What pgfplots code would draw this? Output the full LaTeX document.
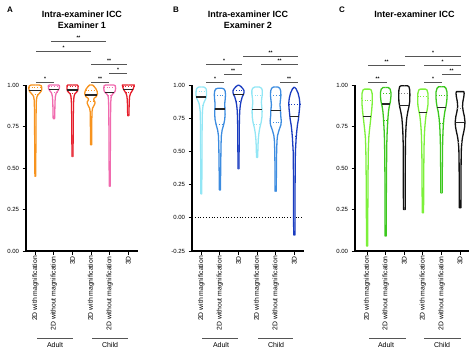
\documentclass[border=0pt]{standalone}
\usepackage{fontspec}
\setmainfont{Liberation Sans}
\usepackage{pgfplots}
\pgfplotsset{compat=1.18}

\definecolor{cOr}{HTML}{F7931E}
\definecolor{cPk}{HTML}{F06AAE}
\definecolor{cRd}{HTML}{E61E2B}
\definecolor{cLc}{HTML}{92E6F5}
\definecolor{cMb}{HTML}{3C8CE0}
\definecolor{cDb}{HTML}{1A3CC0}
\definecolor{cLg}{HTML}{7CF03A}
\definecolor{cGr}{HTML}{3CC81E}
\definecolor{cBk}{HTML}{111111}
\definecolor{barc}{HTML}{555555}

\newcommand\violin[3]{%
 \addplot[#2, line width=1.3pt, line join=round] table[row sep=\\, x expr=#1+\thisrow{w}, y=y]{y w\\ #3};
 \addplot[#2, line width=1.3pt, line join=round] table[row sep=\\, x expr=#1-\thisrow{w}, y=y]{y w\\ #3};}
\newcommand\seg[4]{\addplot[#4] table[row sep=\\, x expr=#1+\thisrow{d}, y=y]{d y\\ -#3 #2\\ #3 #2\\};}
\newcommand\vq[8]{%
 \seg{#1}{#5}{#6}{#2, dotted, line width=0.7pt}
 \seg{#1}{#7}{#8}{#2, dotted, line width=0.7pt}
 \seg{#1}{#3}{#4}{black!85, line width=1.2pt}}

\pgfplotsset{panel/.style={
 scale only axis, width=111.6pt, height=166pt, xmin=-0.5, xmax=5.5,
 axis lines=left, axis line style={-, line width=1.1pt, black},
 tick align=outside, major tick length=3.5pt, tick style={line width=0.9pt, black},
 xtick={0,...,5},
 xticklabels={2D with magnification,2D without magnification,3D,2D with magnification,2D without magnification,3D},
 xticklabel style={rotate=90, anchor=east, font=\fontsize{6.8}{7}\selectfont, inner sep=1.5pt},
 yticklabel style={font=\fontsize{6}{7}\selectfont, /pgf/number format/fixed, /pgf/number format/fixed zerofill, /pgf/number format/precision=2},
 /pgf/number format/assume math mode=true,
 no markers, clip=false,
}}

\begin{document}
\begin{tikzpicture}
\useasboundingbox (0pt,0pt) rectangle (474pt,351pt);

% ---------------- Panel A
\begin{axis}[panel, at={(26pt,100pt)}, anchor=south west, ymin=0, ymax=1, ytick={0,0.25,0.5,0.75,1}]
\violin{0}{cOr}{1.0 0\\ 1.0 0.22\\ 0.995 0.32\\ 0.985 0.35\\ 0.97 0.34\\ 0.96 0.3\\ 0.95 0.22\\ 0.94 0.14\\ 0.93 0.09\\ 0.91 0.06\\ 0.88 0.05\\ 0.85 0.045\\ 0.8 0.04\\ 0.7 0.035\\ 0.6 0.03\\ 0.5 0.025\\ 0.45 0.02\\ 0.45 0\\}
\vq{0}{cOr}{0.965}{0.32}{0.985}{0.34}{0.945}{0.18}
\violin{1}{cPk}{1.0 0\\ 1.0 0.25\\ 0.995 0.3\\ 0.98 0.29\\ 0.97 0.25\\ 0.96 0.18\\ 0.95 0.12\\ 0.93 0.08\\ 0.9 0.06\\ 0.85 0.05\\ 0.8 0.04\\ 0.795 0\\}
\vq{1}{cPk}{0.975}{0.27}{0.99}{0.29}{0.955}{0.15}
\violin{2}{cRd}{1.0 0\\ 1.0 0.25\\ 0.995 0.3\\ 0.98 0.3\\ 0.965 0.28\\ 0.955 0.2\\ 0.945 0.12\\ 0.93 0.08\\ 0.9 0.06\\ 0.85 0.05\\ 0.8 0.04\\ 0.7 0.035\\ 0.6 0.03\\ 0.57 0.03\\ 0.57 0\\}
\vq{2}{cRd}{0.97}{0.29}{0.99}{0.3}{0.95}{0.16}
\violin{3}{cOr}{1.0 0\\ 1.0 0.08\\ 0.99 0.17\\ 0.975 0.27\\ 0.96 0.33\\ 0.945 0.34\\ 0.93 0.28\\ 0.92 0.16\\ 0.91 0.14\\ 0.9 0.2\\ 0.89 0.21\\ 0.875 0.15\\ 0.86 0.08\\ 0.84 0.05\\ 0.8 0.04\\ 0.7 0.035\\ 0.64 0.03\\ 0.64 0\\}
\vq{3}{cOr}{0.94}{0.31}{0.97}{0.3}{0.9}{0.2}
\violin{4}{cPk}{1.0 0\\ 1.0 0.22\\ 0.995 0.3\\ 0.98 0.32\\ 0.965 0.3\\ 0.955 0.25\\ 0.945 0.15\\ 0.93 0.08\\ 0.9 0.06\\ 0.85 0.05\\ 0.8 0.045\\ 0.7 0.04\\ 0.6 0.035\\ 0.5 0.03\\ 0.39 0.025\\ 0.39 0\\}
\vq{4}{cPk}{0.955}{0.25}{0.985}{0.31}{0.935}{0.11}
\violin{5}{cRd}{1.0 0\\ 1.0 0.32\\ 0.99 0.3\\ 0.975 0.26\\ 0.96 0.18\\ 0.95 0.12\\ 0.93 0.07\\ 0.9 0.05\\ 0.85 0.04\\ 0.815 0.03\\ 0.815 0\\}
\vq{5}{cRd}{0.975}{0.26}{0.99}{0.3}{0.955}{0.15}
\end{axis}

% ---------------- Panel B
\begin{axis}[panel, at={(192pt,100pt)}, anchor=south west, ymin=-0.25, ymax=1, ytick={-0.25,0,0.25,0.5,0.75,1}]
\addplot[black, dotted, line width=0.8pt] coordinates {(-0.5,0) (5.5,0)};
\violin{0}{cLc}{0.985 0\\ 0.985 0.12\\ 0.98 0.2\\ 0.97 0.26\\ 0.95 0.28\\ 0.92 0.28\\ 0.9 0.25\\ 0.88 0.18\\ 0.86 0.12\\ 0.83 0.08\\ 0.8 0.06\\ 0.75 0.05\\ 0.7 0.045\\ 0.6 0.04\\ 0.5 0.035\\ 0.4 0.03\\ 0.3 0.03\\ 0.18 0.025\\ 0.18 0\\}
\vq{0}{cLc}{0.91}{0.27}{0.95}{0.28}{0.85}{0.1}
\violin{1}{cMb}{0.975 0\\ 0.975 0.12\\ 0.97 0.22\\ 0.955 0.28\\ 0.93 0.3\\ 0.9 0.29\\ 0.86 0.26\\ 0.82 0.27\\ 0.78 0.28\\ 0.74 0.26\\ 0.7 0.2\\ 0.66 0.12\\ 0.62 0.08\\ 0.55 0.06\\ 0.45 0.05\\ 0.35 0.04\\ 0.21 0.03\\ 0.21 0\\}
\vq{1}{cMb}{0.82}{0.27}{0.92}{0.3}{0.7}{0.2}
\violin{2}{cDb}{1.0 0\\ 0.99 0.12\\ 0.975 0.22\\ 0.96 0.29\\ 0.945 0.3\\ 0.93 0.27\\ 0.91 0.2\\ 0.88 0.14\\ 0.85 0.1\\ 0.81 0.07\\ 0.75 0.05\\ 0.65 0.04\\ 0.55 0.035\\ 0.45 0.03\\ 0.37 0.03\\ 0.37 0\\}
\vq{2}{cDb}{0.93}{0.27}{0.96}{0.29}{0.88}{0.14}
\violin{3}{cLc}{0.985 0\\ 0.985 0.12\\ 0.975 0.24\\ 0.96 0.28\\ 0.93 0.28\\ 0.9 0.25\\ 0.87 0.23\\ 0.84 0.25\\ 0.8 0.27\\ 0.76 0.26\\ 0.72 0.22\\ 0.68 0.15\\ 0.64 0.1\\ 0.6 0.07\\ 0.55 0.05\\ 0.5 0.04\\ 0.455 0.03\\ 0.455 0\\}
\vq{3}{cLc}{0.815}{0.26}{0.92}{0.27}{0.7}{0.18}
\violin{4}{cMb}{0.985 0\\ 0.985 0.12\\ 0.975 0.22\\ 0.955 0.27\\ 0.92 0.28\\ 0.88 0.25\\ 0.85 0.23\\ 0.81 0.26\\ 0.77 0.27\\ 0.73 0.3\\ 0.7 0.28\\ 0.66 0.18\\ 0.62 0.1\\ 0.58 0.07\\ 0.5 0.05\\ 0.4 0.04\\ 0.3 0.035\\ 0.2 0.03\\ 0.2 0\\}
\vq{4}{cMb}{0.81}{0.26}{0.92}{0.28}{0.72}{0.29}
\violin{5}{cDb}{0.985 0\\ 0.97 0.1\\ 0.94 0.2\\ 0.9 0.27\\ 0.86 0.3\\ 0.82 0.28\\ 0.78 0.25\\ 0.74 0.22\\ 0.7 0.17\\ 0.65 0.13\\ 0.6 0.1\\ 0.55 0.08\\ 0.5 0.06\\ 0.4 0.05\\ 0.3 0.045\\ 0.2 0.04\\ 0.1 0.04\\ 0.0 0.04\\ -0.13 0.03\\ -0.13 0\\}
\vq{5}{cDb}{0.76}{0.235}{0.855}{0.3}{0.61}{0.1}
\end{axis}

% ---------------- Panel C
\begin{axis}[panel, at={(355pt,100pt)}, anchor=south west, width=114.4pt, xmin=-0.65, ymin=0, ymax=1, ytick={0,0.25,0.5,0.75,1}]
\violin{0}{cLg}{0.975 0\\ 0.975 0.14\\ 0.97 0.22\\ 0.95 0.27\\ 0.92 0.28\\ 0.88 0.27\\ 0.84 0.24\\ 0.8 0.2\\ 0.76 0.16\\ 0.72 0.12\\ 0.68 0.09\\ 0.62 0.07\\ 0.55 0.06\\ 0.45 0.05\\ 0.35 0.045\\ 0.25 0.04\\ 0.15 0.035\\ 0.03 0.03\\ 0.03 0\\}
\vq{0}{cLg}{0.81}{0.21}{0.905}{0.275}{0.69}{0.1}
\violin{1}{cGr}{0.985 0\\ 0.985 0.14\\ 0.975 0.24\\ 0.955 0.28\\ 0.93 0.28\\ 0.9 0.25\\ 0.87 0.19\\ 0.84 0.15\\ 0.8 0.12\\ 0.76 0.1\\ 0.72 0.08\\ 0.65 0.06\\ 0.55 0.05\\ 0.45 0.04\\ 0.35 0.035\\ 0.25 0.035\\ 0.09 0.03\\ 0.09 0\\}
\vq{1}{cGr}{0.885}{0.22}{0.95}{0.28}{0.79}{0.115}
\violin{2}{cBk}{0.995 0\\ 0.995 0.18\\ 0.99 0.25\\ 0.97 0.29\\ 0.94 0.3\\ 0.9 0.29\\ 0.87 0.25\\ 0.84 0.19\\ 0.8 0.13\\ 0.76 0.1\\ 0.72 0.08\\ 0.65 0.06\\ 0.55 0.055\\ 0.45 0.05\\ 0.35 0.05\\ 0.25 0.045\\ 0.25 0\\}
\vq{2}{gray}{0.875}{0.26}{0.95}{0.3}{0.72}{0.08}
\violin{3}{cLg}{0.975 0\\ 0.975 0.14\\ 0.97 0.22\\ 0.95 0.27\\ 0.92 0.28\\ 0.88 0.27\\ 0.85 0.23\\ 0.82 0.17\\ 0.78 0.13\\ 0.74 0.1\\ 0.7 0.08\\ 0.62 0.06\\ 0.52 0.05\\ 0.42 0.045\\ 0.32 0.04\\ 0.23 0.035\\ 0.23 0\\}
\vq{3}{cLg}{0.835}{0.2}{0.93}{0.28}{0.72}{0.09}
\violin{4}{cGr}{0.99 0\\ 0.99 0.15\\ 0.98 0.24\\ 0.96 0.29\\ 0.93 0.3\\ 0.9 0.28\\ 0.87 0.24\\ 0.84 0.18\\ 0.8 0.13\\ 0.76 0.1\\ 0.72 0.08\\ 0.65 0.06\\ 0.55 0.05\\ 0.45 0.04\\ 0.35 0.035\\ 0.35 0\\}
\vq{4}{cGr}{0.865}{0.23}{0.935}{0.3}{0.77}{0.095}
\violin{5}{cBk}{0.96 0\\ 0.96 0.2\\ 0.95 0.22\\ 0.93 0.2\\ 0.9 0.15\\ 0.87 0.13\\ 0.84 0.17\\ 0.81 0.23\\ 0.78 0.26\\ 0.75 0.25\\ 0.72 0.2\\ 0.69 0.14\\ 0.66 0.1\\ 0.62 0.07\\ 0.55 0.055\\ 0.45 0.05\\ 0.35 0.045\\ 0.26 0.04\\ 0.26 0\\}
\vq{5}{gray}{0.775}{0.255}{0.86}{0.15}{0.655}{0.095}
\end{axis}

% ---------------- annotations
\begin{scope}[x=1pt,y=1pt]
\tikzset{tt/.style={font=\bfseries\fontsize{9}{10}\selectfont, inner sep=0pt},
 pl/.style={font=\bfseries\fontsize{8}{9}\selectfont, inner sep=0pt},
 st/.style={font=\bfseries\fontsize{5}{5}\selectfont, inner sep=0.6pt, anchor=south},
 gl/.style={font=\fontsize{7}{8}\selectfont, inner sep=0pt},
 sb/.style={draw=barc, line width=0.8pt}}
\node[pl] at (10,341) {A};
\node[pl] at (176,341) {B};
\node[pl] at (342,341) {C};
\node[tt] at (82,337) {Intra-examiner ICC};
\node[tt] at (82,326) {Examiner 1};
\node[tt] at (248,337) {Intra-examiner ICC};
\node[tt] at (248,326) {Examiner 2};
\node[tt] at (414.5,337) {Inter-examiner ICC};

% significance bars A
\draw[sb] (51,310) -- node[st]{**} (106,310);
\draw[sb] (36,300) -- node[st]{*} (91,300);
\draw[sb] (91,287) -- node[st]{**} (127,287);
\draw[sb] (109,278) -- node[st]{*} (127,278);
\draw[sb] (36,269) -- node[st]{*} (54,269);
\draw[sb] (91,269) -- node[st]{**} (109,269);
% B
\draw[sb] (243,295) -- node[st]{**} (298,295);
\draw[sb] (206,287) -- node[st]{*} (242,287);
\draw[sb] (261,287) -- node[st]{**} (298,287);
\draw[sb] (224,277) -- node[st]{**} (242,277);
\draw[sb] (206,269) -- node[st]{*} (224,269);
\draw[sb] (280,269) -- node[st]{**} (298,269);
% C
\draw[sb] (405,295) -- node[st]{*} (461,295);
\draw[sb] (368,286) -- node[st]{**} (405,286);
\draw[sb] (424,286) -- node[st]{*} (461,286);
\draw[sb] (442,277) -- node[st]{**} (461,277);
\draw[sb] (368,269) -- node[st]{**} (387,269);
\draw[sb] (424,269) -- node[st]{*} (442,269);

% group labels
\draw[sb] (37,13) -- (73,13); \node[gl] at (55,6.5) {Adult};
\draw[sb] (92,13) -- (128,13); \node[gl] at (110,6.5) {Child};
\draw[sb] (202,13) -- (238,13); \node[gl] at (221,6.5) {Adult};
\draw[sb] (258,13) -- (293,13); \node[gl] at (276,6.5) {Child};
\draw[sb] (369,13) -- (406,13); \node[gl] at (386,6.5) {Adult};
\draw[sb] (424,13) -- (461,13); \node[gl] at (442,6.5) {Child};
\end{scope}
\end{tikzpicture}
\end{document}
